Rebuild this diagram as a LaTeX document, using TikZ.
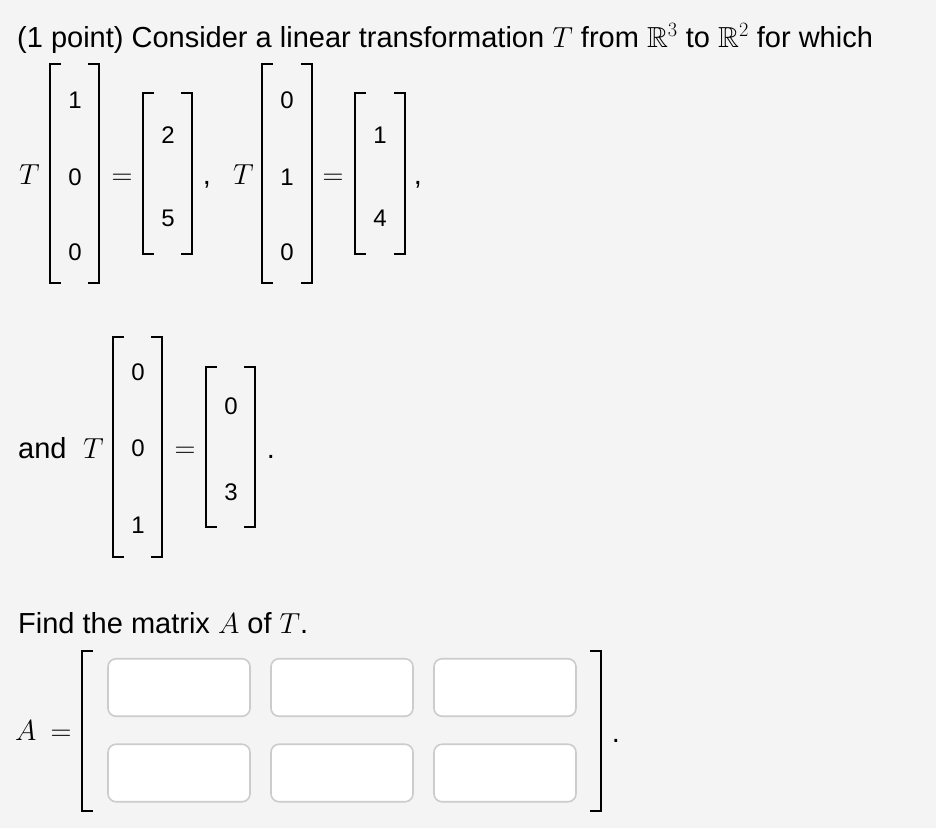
\RequirePackage{fix-cm}
\documentclass[tikz,border=0pt]{standalone}
\usepackage{amssymb}
\usepackage[no-math]{fontspec}
\setmainfont{Liberation Sans}
\definecolor{bggray}{RGB}{244,244,244}
\definecolor{boxgray}{RGB}{204,204,204}

\begin{document}
\begin{tikzpicture}[x=1pt,y=1pt,yscale=-1,xscale=1,
  txt/.style={anchor=base west,inner sep=0pt,font=\fontsize{29}{35}\selectfont},
  sym/.style={anchor=base,inner sep=0pt,font=\fontsize{29}{35}\selectfont},
  entry/.style={inner sep=0pt,font=\fontsize{24}{28}\selectfont},
  brk/.style={line width=2.2pt},
  ansbox/.style={draw=boxgray,line width=1.6pt,fill=white,rounded corners=8pt,minimum width=142pt,minimum height=57.5pt,inner sep=0pt}]
%set diagram at 936 x 828
\useasboundingbox[fill=bggray] (0,0) rectangle (936,828);

% Text Node
\node[txt] (title) at (17,47) {(1 point) Consider a linear transformation $T$ from $\mathbb{R}^3$ to $\mathbb{R}^2$ for which};

% first line
\node[txt] (t1) at (19,184) {$T$};
%Shape: Bracket
\draw[brk] (61,64) -- (50,64) -- (50,283) -- (61,283);
\draw[brk] (88,64) -- (99,64) -- (99,283) -- (88,283);
\node[entry] (u11) at (75,100) {1};
\node[entry] (u12) at (75,177) {0};
\node[entry] (u13) at (75,252) {0};
\node[sym] (eq1) at (122,184) {$=$};
%Shape: Bracket
\draw[brk] (154,93) -- (143,93) -- (143,254) -- (154,254);
\draw[brk] (181,93) -- (192,93) -- (192,254) -- (181,254);
\node[entry] (v11) at (168,135) {2};
\node[entry] (v12) at (168,218) {5};
\node[sym] (c1) at (207,184) {,};

\node[txt] (t2) at (233,184) {$T$};
%Shape: Bracket
\draw[brk] (273,64) -- (262,64) -- (262,283) -- (273,283);
\draw[brk] (301,64) -- (312,64) -- (312,283) -- (301,283);
\node[entry] (u21) at (287,100) {0};
\node[entry] (u22) at (287,177) {1};
\node[entry] (u23) at (287,252) {0};
\node[sym] (eq2) at (333,184) {$=$};
%Shape: Bracket
\draw[brk] (366,93) -- (355,93) -- (355,254) -- (366,254);
\draw[brk] (394,93) -- (405,93) -- (405,254) -- (394,254);
\node[entry] (v21) at (380,135) {1};
\node[entry] (v22) at (380,218) {4};
\node[sym] (c2) at (418,184) {,};

% second line
\node[txt] (and) at (18,458) {and};
\node[txt] (t3) at (83,458) {$T$};
%Shape: Bracket
\draw[brk] (124,337) -- (113,337) -- (113,557) -- (124,557);
\draw[brk] (151,337) -- (162,337) -- (162,557) -- (151,557);
\node[entry] (u31) at (138,372) {0};
\node[entry] (u32) at (138,448) {0};
\node[entry] (u33) at (138,525) {1};
\node[sym] (eq3) at (185,457) {$=$};
%Shape: Bracket
\draw[brk] (217,367) -- (206,367) -- (206,527) -- (217,527);
\draw[brk] (244,367) -- (255,367) -- (255,527) -- (244,527);
\node[entry] (v31) at (231,406) {0};
\node[entry] (v32) at (231,492) {3};
\node[sym] (p1) at (271,458) {.};

% Text Node
\node[txt] (find) at (18,633) {Find the matrix $A$ of $T$.};

% answer matrix
\node[txt] (a) at (15,740) {$A$};
\node[sym] (eq4) at (61,740) {$=$};
%Shape: Bracket
\draw[brk] (93,651) -- (82,651) -- (82,811) -- (93,811);
\draw[brk] (590,651) -- (601,651) -- (601,811) -- (590,811);
\node[ansbox] (a11) at (179,687.5) {};
\node[ansbox] (a12) at (342,687.5) {};
\node[ansbox] (a13) at (505,687.5) {};
\node[ansbox] (a21) at (179,773) {};
\node[ansbox] (a22) at (342,773) {};
\node[ansbox] (a23) at (505,773) {};
\node[sym] (p2) at (616,742) {.};

\end{tikzpicture}
\end{document}
